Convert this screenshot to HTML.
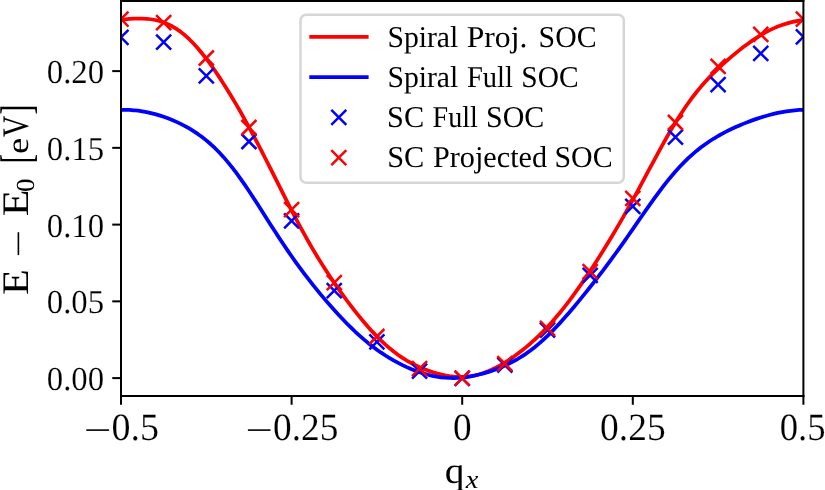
<!DOCTYPE html>
<html><head><meta charset="utf-8"><style>
html,body{margin:0;padding:0;background:#fff;overflow:hidden;}
svg{display:block;will-change:transform;}
.t{font-family:"Liberation Serif",serif;fill:#000;font-kerning:none;text-rendering:geometricPrecision;}
.e{stroke:#fff;stroke-width:0.15px;paint-order:fill stroke;}
</style></head><body>
<svg width="825" height="490" viewBox="0 0 825 490"><defs><clipPath id="ax"><rect x="121.0" y="1.0" width="682.4" height="395.0"/></clipPath></defs><g clip-path="url(#ax)"><path d="M121.00,19.90 L125.26,19.34 L129.53,18.93 L133.80,18.65 L138.06,18.52 L142.32,18.56 L146.59,18.80 L150.86,19.26 L155.12,19.99 L159.38,21.02 L163.65,22.39 L167.91,24.14 L172.18,26.29 L176.44,28.86 L180.71,31.87 L184.98,35.32 L189.24,39.20 L193.50,43.51 L197.77,48.22 L202.04,53.30 L206.30,58.74 L210.56,64.49 L214.83,70.54 L219.10,76.85 L223.36,83.41 L227.62,90.20 L231.89,97.19 L236.16,104.39 L240.42,111.79 L244.69,119.37 L248.95,127.14 L253.21,135.08 L257.48,143.17 L261.75,151.40 L266.01,159.75 L270.27,168.19 L274.54,176.68 L278.81,185.19 L283.07,193.67 L287.34,202.09 L291.60,210.40 L295.87,218.57 L300.13,226.57 L304.39,234.38 L308.66,241.97 L312.92,249.33 L317.19,256.47 L321.46,263.38 L325.72,270.08 L329.99,276.57 L334.25,282.87 L338.51,288.99 L342.78,294.95 L347.05,300.74 L351.31,306.37 L355.57,311.84 L359.84,317.15 L364.11,322.27 L368.37,327.19 L372.63,331.90 L376.90,336.38 L381.17,340.62 L385.43,344.60 L389.70,348.32 L393.96,351.76 L398.23,354.94 L402.49,357.86 L406.75,360.53 L411.02,362.96 L415.29,365.17 L419.55,367.18 L423.81,368.99 L428.08,370.62 L432.35,372.07 L436.61,373.34 L440.88,374.44 L445.14,375.35 L449.40,376.06 L453.67,376.56 L457.94,376.83 L462.20,376.85 L466.46,376.62 L470.73,376.12 L475.00,375.35 L479.26,374.29 L483.52,372.97 L487.79,371.37 L492.06,369.53 L496.32,367.44 L500.58,365.12 L504.85,362.59 L509.11,359.86 L513.38,356.94 L517.64,353.84 L521.91,350.57 L526.17,347.11 L530.44,343.47 L534.71,339.64 L538.97,335.61 L543.24,331.37 L547.50,326.92 L551.77,322.25 L556.03,317.35 L560.30,312.23 L564.56,306.90 L568.83,301.35 L573.09,295.61 L577.36,289.69 L581.62,283.59 L585.88,277.34 L590.15,270.95 L594.42,264.43 L598.68,257.77 L602.95,251.00 L607.21,244.10 L611.48,237.07 L615.74,229.91 L620.00,222.61 L624.27,215.17 L628.53,207.60 L632.80,199.90 L637.07,192.09 L641.33,184.18 L645.60,176.22 L649.86,168.24 L654.12,160.27 L658.39,152.38 L662.65,144.60 L666.92,137.00 L671.18,129.63 L675.45,122.51 L679.72,115.69 L683.98,109.20 L688.25,103.04 L692.51,97.23 L696.77,91.76 L701.04,86.60 L705.31,81.74 L709.57,77.15 L713.84,72.80 L718.10,68.65 L722.37,64.67 L726.63,60.85 L730.89,57.16 L735.16,53.60 L739.42,50.16 L743.69,46.85 L747.96,43.67 L752.22,40.64 L756.49,37.79 L760.75,35.12 L765.02,32.66 L769.28,30.41 L773.55,28.38 L777.81,26.58 L782.08,24.99 L786.34,23.62 L790.61,22.43 L794.87,21.43 L799.13,20.59 L803.40,19.90" stroke="#ff0000" stroke-width="3.75" fill="none" stroke-linejoin="round"/><path d="M121.00,109.82 L125.26,109.81 L129.53,109.95 L133.80,110.26 L138.06,110.72 L142.32,111.35 L146.59,112.13 L150.86,113.07 L155.12,114.16 L159.38,115.40 L163.65,116.79 L167.91,118.33 L172.18,120.02 L176.44,121.87 L180.71,123.89 L184.98,126.08 L189.24,128.47 L193.50,131.07 L197.77,133.90 L202.04,136.99 L206.30,140.35 L210.56,144.01 L214.83,147.98 L219.10,152.28 L223.36,156.90 L227.62,161.86 L231.89,167.13 L236.16,172.71 L240.42,178.57 L244.69,184.68 L248.95,190.99 L253.21,197.47 L257.48,204.07 L261.75,210.75 L266.01,217.46 L270.27,224.16 L274.54,230.80 L278.81,237.36 L283.07,243.81 L287.34,250.13 L291.60,256.30 L295.87,262.32 L300.13,268.18 L304.39,273.90 L308.66,279.47 L312.92,284.89 L317.19,290.19 L321.46,295.36 L325.72,300.40 L329.99,305.33 L334.25,310.12 L338.51,314.79 L342.78,319.32 L347.05,323.71 L351.31,327.94 L355.57,332.01 L359.84,335.91 L364.11,339.63 L368.37,343.17 L372.63,346.52 L376.90,349.69 L381.17,352.68 L385.43,355.49 L389.70,358.13 L393.96,360.61 L398.23,362.93 L402.49,365.09 L406.75,367.11 L411.02,368.96 L415.29,370.67 L419.55,372.21 L423.81,373.59 L428.08,374.80 L432.35,375.82 L436.61,376.66 L440.88,377.30 L445.14,377.74 L449.40,377.99 L453.67,378.03 L457.94,377.88 L462.20,377.54 L466.46,377.03 L470.73,376.34 L475.00,375.50 L479.26,374.51 L483.52,373.38 L487.79,372.11 L492.06,370.70 L496.32,369.16 L500.58,367.47 L504.85,365.62 L509.11,363.61 L513.38,361.41 L517.64,359.02 L521.91,356.41 L526.17,353.58 L530.44,350.51 L534.71,347.20 L538.97,343.66 L543.24,339.88 L547.50,335.87 L551.77,331.64 L556.03,327.22 L560.30,322.63 L564.56,317.87 L568.83,312.98 L573.09,307.98 L577.36,302.87 L581.62,297.67 L585.88,292.39 L590.15,287.04 L594.42,281.61 L598.68,276.11 L602.95,270.53 L607.21,264.86 L611.48,259.10 L615.74,253.26 L620.00,247.33 L624.27,241.31 L628.53,235.23 L632.80,229.10 L637.07,222.94 L641.33,216.78 L645.60,210.65 L649.86,204.58 L654.12,198.62 L658.39,192.79 L662.65,187.14 L666.92,181.69 L671.18,176.46 L675.45,171.49 L679.72,166.79 L683.98,162.35 L688.25,158.19 L692.51,154.31 L696.77,150.69 L701.04,147.32 L705.31,144.18 L709.57,141.26 L713.84,138.54 L718.10,136.00 L722.37,133.62 L726.63,131.38 L730.89,129.27 L735.16,127.29 L739.42,125.41 L743.69,123.63 L747.96,121.95 L752.22,120.37 L756.49,118.88 L760.75,117.49 L765.02,116.19 L769.28,115.00 L773.55,113.92 L777.81,112.95 L782.08,112.09 L786.34,111.36 L790.61,110.77 L794.87,110.31 L799.13,109.99 L803.40,109.82" stroke="#0000ff" stroke-width="3.75" fill="none" stroke-linejoin="round"/><path d="M113.50,29.80 L128.50,44.80 M113.50,44.80 L128.50,29.80" stroke="#0000ff" stroke-width="2.5" fill="none"/><path d="M156.15,34.60 L171.15,49.60 M156.15,49.60 L171.15,34.60" stroke="#0000ff" stroke-width="2.5" fill="none"/><path d="M198.80,68.35 L213.80,83.35 M198.80,83.35 L213.80,68.35" stroke="#0000ff" stroke-width="2.5" fill="none"/><path d="M241.45,134.00 L256.45,149.00 M241.45,149.00 L256.45,134.00" stroke="#0000ff" stroke-width="2.5" fill="none"/><path d="M284.10,213.40 L299.10,228.40 M284.10,228.40 L299.10,213.40" stroke="#0000ff" stroke-width="2.5" fill="none"/><path d="M326.75,283.20 L341.75,298.20 M326.75,298.20 L341.75,283.20" stroke="#0000ff" stroke-width="2.5" fill="none"/><path d="M369.40,334.30 L384.40,349.30 M369.40,349.30 L384.40,334.30" stroke="#0000ff" stroke-width="2.5" fill="none"/><path d="M412.05,363.70 L427.05,378.70 M412.05,378.70 L427.05,363.70" stroke="#0000ff" stroke-width="2.5" fill="none"/><path d="M454.70,370.80 L469.70,385.80 M454.70,385.80 L469.70,370.80" stroke="#0000ff" stroke-width="2.5" fill="none"/><path d="M497.35,357.50 L512.35,372.50 M497.35,372.50 L512.35,357.50" stroke="#0000ff" stroke-width="2.5" fill="none"/><path d="M540.00,322.50 L555.00,337.50 M540.00,337.50 L555.00,322.50" stroke="#0000ff" stroke-width="2.5" fill="none"/><path d="M582.65,267.90 L597.65,282.90 M582.65,282.90 L597.65,267.90" stroke="#0000ff" stroke-width="2.5" fill="none"/><path d="M625.30,198.90 L640.30,213.90 M625.30,213.90 L640.30,198.90" stroke="#0000ff" stroke-width="2.5" fill="none"/><path d="M667.95,129.70 L682.95,144.70 M667.95,144.70 L682.95,129.70" stroke="#0000ff" stroke-width="2.5" fill="none"/><path d="M710.60,77.10 L725.60,92.10 M710.60,92.10 L725.60,77.10" stroke="#0000ff" stroke-width="2.5" fill="none"/><path d="M753.25,45.90 L768.25,60.90 M753.25,60.90 L768.25,45.90" stroke="#0000ff" stroke-width="2.5" fill="none"/><path d="M795.90,29.40 L810.90,44.40 M795.90,44.40 L810.90,29.40" stroke="#0000ff" stroke-width="2.5" fill="none"/><path d="M113.50,11.60 L128.50,26.60 M113.50,26.60 L128.50,11.60" stroke="#ff0000" stroke-width="2.5" fill="none"/><path d="M156.15,15.20 L171.15,30.20 M156.15,30.20 L171.15,15.20" stroke="#ff0000" stroke-width="2.5" fill="none"/><path d="M198.80,50.50 L213.80,65.50 M198.80,65.50 L213.80,50.50" stroke="#ff0000" stroke-width="2.5" fill="none"/><path d="M241.45,120.00 L256.45,135.00 M241.45,135.00 L256.45,120.00" stroke="#ff0000" stroke-width="2.5" fill="none"/><path d="M284.10,202.10 L299.10,217.10 M284.10,217.10 L299.10,202.10" stroke="#ff0000" stroke-width="2.5" fill="none"/><path d="M326.75,275.10 L341.75,290.10 M326.75,290.10 L341.75,275.10" stroke="#ff0000" stroke-width="2.5" fill="none"/><path d="M369.40,329.00 L384.40,344.00 M369.40,344.00 L384.40,329.00" stroke="#ff0000" stroke-width="2.5" fill="none"/><path d="M412.05,361.20 L427.05,376.20 M412.05,376.20 L427.05,361.20" stroke="#ff0000" stroke-width="2.5" fill="none"/><path d="M454.70,370.60 L469.70,385.60 M454.70,385.60 L469.70,370.60" stroke="#ff0000" stroke-width="2.5" fill="none"/><path d="M497.35,356.20 L512.35,371.20 M497.35,371.20 L512.35,356.20" stroke="#ff0000" stroke-width="2.5" fill="none"/><path d="M540.00,320.90 L555.00,335.90 M540.00,335.90 L555.00,320.90" stroke="#ff0000" stroke-width="2.5" fill="none"/><path d="M582.65,264.20 L597.65,279.20 M582.65,279.20 L597.65,264.20" stroke="#ff0000" stroke-width="2.5" fill="none"/><path d="M625.30,190.90 L640.30,205.90 M625.30,205.90 L640.30,190.90" stroke="#ff0000" stroke-width="2.5" fill="none"/><path d="M667.95,115.00 L682.95,130.00 M667.95,130.00 L682.95,115.00" stroke="#ff0000" stroke-width="2.5" fill="none"/><path d="M710.60,58.80 L725.60,73.80 M710.60,73.80 L725.60,58.80" stroke="#ff0000" stroke-width="2.5" fill="none"/><path d="M753.25,26.90 L768.25,41.90 M753.25,41.90 L768.25,26.90" stroke="#ff0000" stroke-width="2.5" fill="none"/><path d="M795.90,11.60 L810.90,26.60 M795.90,26.60 L810.90,11.60" stroke="#ff0000" stroke-width="2.5" fill="none"/></g><g fill="#000"><rect x="120" y="0" width="2" height="397"/><rect x="802.4" y="0" width="2" height="397"/><rect x="120" y="0" width="684.4" height="2"/><rect x="120" y="395" width="684.4" height="2"/><rect x="120.00" y="396" width="2" height="8.75"/><rect x="290.60" y="396" width="2" height="8.75"/><rect x="461.20" y="396" width="2" height="8.75"/><rect x="631.80" y="396" width="2" height="8.75"/><rect x="802.40" y="396" width="2" height="8.75"/><rect x="112.25" y="70.10" width="8.75" height="2"/><rect x="112.25" y="146.85" width="8.75" height="2"/><rect x="112.25" y="223.60" width="8.75" height="2"/><rect x="112.25" y="300.35" width="8.75" height="2"/><rect x="112.25" y="377.10" width="8.75" height="2"/><rect x="86.3" y="429.30" width="22.8" height="1.6"/><rect x="247.9" y="429.30" width="22.6" height="1.6"/></g><g class="t e"><text x="46.75" y="83.10" font-size="33.50" textLength="57.40" lengthAdjust="spacingAndGlyphs">0.20</text><text x="46.75" y="159.85" font-size="33.50" textLength="57.43" lengthAdjust="spacingAndGlyphs">0.15</text><text x="46.75" y="236.60" font-size="33.50" textLength="57.40" lengthAdjust="spacingAndGlyphs">0.10</text><text x="46.75" y="313.35" font-size="33.50" textLength="57.43" lengthAdjust="spacingAndGlyphs">0.05</text><text x="46.75" y="390.10" font-size="33.50" textLength="57.40" lengthAdjust="spacingAndGlyphs">0.00</text><text x="111.55" y="440.10" font-size="38.60" textLength="47.53" lengthAdjust="spacingAndGlyphs">0.5</text><text x="273.08" y="440.10" font-size="38.60" textLength="65.38" lengthAdjust="spacingAndGlyphs">0.25</text><text x="452.88" y="440.10" font-size="38.60" textLength="18.64" lengthAdjust="spacingAndGlyphs">0</text><text x="600.07" y="440.10" font-size="38.60" textLength="65.59" lengthAdjust="spacingAndGlyphs">0.25</text><text x="779.70" y="440.10" font-size="38.60" textLength="45.83" lengthAdjust="spacingAndGlyphs">0.5</text></g><rect x="300.5" y="14.75" width="323.3" height="168.0" rx="5.8" ry="5.8" fill="#fff" fill-opacity="0.8" stroke="#cccccc" stroke-opacity="0.8" stroke-width="2.5"/><line x1="309.3" y1="36.8" x2="368.6" y2="36.8" stroke="#ff0000" stroke-width="3.75"/><line x1="309.3" y1="77.2" x2="368.6" y2="77.2" stroke="#0000ff" stroke-width="3.75"/><path d="M331.30,109.90 L346.30,124.90 M331.30,124.90 L346.30,109.90" stroke="#0000ff" stroke-width="2.5" fill="none"/><path d="M331.30,150.10 L346.30,165.10 M331.30,165.10 L346.30,150.10" stroke="#ff0000" stroke-width="2.5" fill="none"/><g class="t"><text x="387.42" y="47.10" font-size="30.30" textLength="70.88" lengthAdjust="spacingAndGlyphs">Spiral</text><text x="466.69" y="47.10" font-size="30.30" textLength="60.70" lengthAdjust="spacingAndGlyphs">Proj.</text><text x="538.61" y="47.10" font-size="30.30" textLength="57.94" lengthAdjust="spacingAndGlyphs">SOC</text><text x="387.42" y="87.20" font-size="30.30" textLength="70.88" lengthAdjust="spacingAndGlyphs">Spiral</text><text x="466.98" y="87.20" font-size="30.30" textLength="45.99" lengthAdjust="spacingAndGlyphs">Full</text><text x="521.33" y="87.20" font-size="30.30" textLength="57.19" lengthAdjust="spacingAndGlyphs">SOC</text><text x="387.07" y="127.30" font-size="30.30" textLength="37.10" lengthAdjust="spacingAndGlyphs">SC</text><text x="432.59" y="127.30" font-size="30.30" textLength="45.27" lengthAdjust="spacingAndGlyphs">Full</text><text x="486.00" y="127.30" font-size="30.30" textLength="58.26" lengthAdjust="spacingAndGlyphs">SOC</text><text x="387.17" y="167.40" font-size="30.30" textLength="37.10" lengthAdjust="spacingAndGlyphs">SC</text><text x="432.93" y="167.40" font-size="30.30" textLength="114.14" lengthAdjust="spacingAndGlyphs">Projected</text><text x="554.50" y="167.40" font-size="30.30" textLength="58.15" lengthAdjust="spacingAndGlyphs">SOC</text><text x="444.68" y="482.60" font-size="37.00" textLength="19.63" lengthAdjust="spacingAndGlyphs">q</text><text x="465.75" y="488.30" font-size="26.00" textLength="12.66" lengthAdjust="spacingAndGlyphs" font-style="italic">x</text></g><g class="t" transform="rotate(-90)"><text x="-295.12" y="27.60" font-size="37.50" textLength="25.82" lengthAdjust="spacingAndGlyphs">E</text><text x="-216.36" y="27.60" font-size="37.50" textLength="26.74" lengthAdjust="spacingAndGlyphs">E</text><text x="-192.13" y="34.00" font-size="26.00" textLength="13.57" lengthAdjust="spacingAndGlyphs">0</text><text x="-154.12" y="27.60" font-size="30.80" textLength="16.19" lengthAdjust="spacingAndGlyphs">e</text><text x="-137.03" y="27.60" font-size="37.50" textLength="21.47" lengthAdjust="spacingAndGlyphs">V</text></g><g class="t" transform="rotate(-90)"><g transform="translate(0,30.767) scale(1,1.1825)"><text x="-163.23" y="0" font-size="37.50" textLength="9.12" lengthAdjust="spacingAndGlyphs">[</text></g><g transform="translate(0,30.767) scale(1,1.1825)"><text x="-114.57" y="0" font-size="37.50" textLength="9.87" lengthAdjust="spacingAndGlyphs">]</text></g></g><rect x="17.6" y="232.2" width="1.6" height="22.9" fill="#000"/></svg>
</body></html>
